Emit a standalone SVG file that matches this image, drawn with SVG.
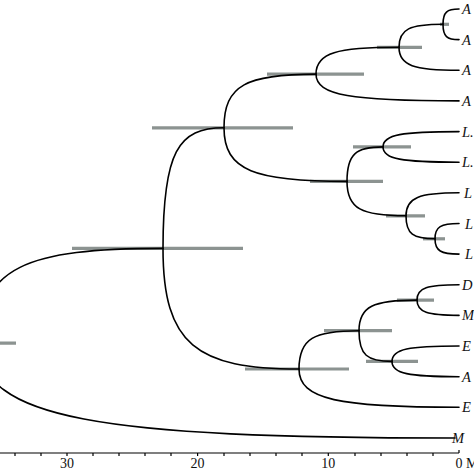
<svg xmlns="http://www.w3.org/2000/svg" width="474" height="474" viewBox="0 0 474 474">
<style>
.br{fill:none;stroke:#000;stroke-width:1.6;stroke-linecap:round}
.bar{stroke:#8c9391;stroke-width:3.2;stroke-linecap:butt}
.lab{font-family:"Liberation Serif","Times New Roman",serif;font-style:italic;font-size:14.5px;fill:#111}
.ax{font-family:"Liberation Serif","Times New Roman",serif;font-size:14px;fill:#111}
.axl{stroke:#000;stroke-width:1.2;fill:none}
</style>
<rect width="474" height="474" fill="#fff"/>
<g id="bars">
<g id="node-root"><line class="bar" x1="-24" y1="343.2" x2="16" y2="343.2"/></g>
<g id="node-n1"><line class="bar" x1="72" y1="248.4" x2="243" y2="248.4"/></g>
<g id="node-n2"><line class="bar" x1="152" y1="127.8" x2="293" y2="127.8"/></g>
<g id="node-n4"><line class="bar" x1="267" y1="74.1" x2="364" y2="74.1"/></g>
<g id="node-n5"><line class="bar" x1="377" y1="47.3" x2="422" y2="47.3"/></g>
<g id="node-n6"><line class="bar" x1="440" y1="24.3" x2="449" y2="24.3"/></g>
<g id="node-n7"><line class="bar" x1="310" y1="181.4" x2="383" y2="181.4"/></g>
<g id="node-n8"><line class="bar" x1="353" y1="146.9" x2="411" y2="146.9"/></g>
<g id="node-n9"><line class="bar" x1="386" y1="215.8" x2="425" y2="215.8"/></g>
<g id="node-n10"><line class="bar" x1="423" y1="238.8" x2="445" y2="238.8"/></g>
<g id="node-n3"><line class="bar" x1="245" y1="369" x2="349" y2="369"/></g>
<g id="node-n11"><line class="bar" x1="324" y1="330.7" x2="392" y2="330.7"/></g>
<g id="node-n12"><line class="bar" x1="397" y1="300.1" x2="434" y2="300.1"/></g>
<g id="node-n13"><line class="bar" x1="366" y1="361.4" x2="418" y2="361.4"/></g>
</g>
<g id="connectors">
<path class="br" d="M-20,343.2 C-20,267.4 25.75,248.4 163,248.4"/>
<path class="br" d="M-20,343.2 C-20,419 98.75,438 455,438"/>
<path class="br" d="M163,248.4 C163,151.9 178.25,127.8 224,127.8"/>
<path class="br" d="M163,248.4 C163,344.9 197,369 299,369"/>
<path class="br" d="M224,127.8 C224,84.8 247,74.1 316,74.1"/>
<path class="br" d="M224,127.8 C224,170.7 254.75,181.4 347,181.4"/>
<path class="br" d="M316,74.1 C316,52.7 336.75,47.3 399,47.3"/>
<path class="br" d="M316,74.1 C316,95.5 351.75,100.9 459,100.9"/>
<path class="br" d="M399,47.3 C399,28.9 410,24.3 443,24.3"/>
<path class="br" d="M399,47.3 C399,65.7 414,70.3 459,70.3"/>
<path class="br" d="M443,24.3 C443,12.06 447,9 459,9"/>
<path class="br" d="M443,24.3 C443,36.54 447,39.6 459,39.6"/>
<path class="br" d="M347,181.4 C347,153.8 356,146.9 383,146.9"/>
<path class="br" d="M347,181.4 C347,208.9 361.75,215.8 406,215.8"/>
<path class="br" d="M383,146.9 C383,134.66 402,131.6 459,131.6"/>
<path class="br" d="M383,146.9 C383,159.14 402,162.2 459,162.2"/>
<path class="br" d="M406,215.8 C406,197.4 419.25,192.8 459,192.8"/>
<path class="br" d="M406,215.8 C406,234.2 413.25,238.8 435,238.8"/>
<path class="br" d="M435,238.8 C435,226.56 441,223.5 459,223.5"/>
<path class="br" d="M435,238.8 C435,251.04 441,254.1 459,254.1"/>
<path class="br" d="M299,369 C299,338.36 314,330.7 359,330.7"/>
<path class="br" d="M299,369 C299,399.64 339,407.3 459,407.3"/>
<path class="br" d="M359,330.7 C359,306.22 373.5,300.1 417,300.1"/>
<path class="br" d="M359,330.7 C359,355.26 367.25,361.4 392,361.4"/>
<path class="br" d="M417,300.1 C417,287.86 427.5,284.8 459,284.8"/>
<path class="br" d="M417,300.1 C417,312.34 427.5,315.4 459,315.4"/>
<path class="br" d="M392,361.4 C392,349.08 408.75,346 459,346"/>
<path class="br" d="M392,361.4 C392,373.64 408.75,376.7 459,376.7"/>
</g>
<g id="tips">
<g id="tip-1"><text class="lab" x="462" y="14">A</text></g>
<g id="tip-2"><text class="lab" x="462" y="44.6">A</text></g>
<g id="tip-3"><text class="lab" x="462" y="75.3">A</text></g>
<g id="tip-4"><text class="lab" x="462" y="105.9">A</text></g>
<g id="tip-5"><text class="lab" x="462" y="136.6">L.</text></g>
<g id="tip-6"><text class="lab" x="462" y="167.2">L.</text></g>
<g id="tip-7"><text class="lab" x="464" y="197.8">L</text></g>
<g id="tip-8"><text class="lab" x="465" y="228.5">L</text></g>
<g id="tip-9"><text class="lab" x="465" y="259.1">L</text></g>
<g id="tip-10"><text class="lab" x="462" y="289.8">D</text></g>
<g id="tip-11"><text class="lab" x="462" y="320.4">M</text></g>
<g id="tip-12"><text class="lab" x="462" y="351">E</text></g>
<g id="tip-13"><text class="lab" x="462" y="381.7">A</text></g>
<g id="tip-14"><text class="lab" x="462" y="412.3">E</text></g>
<g id="tip-15"><text class="lab" x="452" y="443">M</text></g>
</g>
<g id="axis">
<line class="axl" x1="0" y1="453" x2="459" y2="453"/>
<path class="axl" d="M459,453v-3 M433,453v3 M407,453v3 M381,453v3 M355,453v3 M328.3,453v3 M302,453v3 M276,453v3 M250,453v3 M224,453v3 M197.6,453v3 M171,453v3 M145,453v3 M119,453v3 M93,453v3 M67,453v3 M41,453v3 M15,453v3"/>
<text class="ax" x="67" y="468" text-anchor="middle">30</text>
<text class="ax" x="197.6" y="468" text-anchor="middle">20</text>
<text class="ax" x="328.3" y="468" text-anchor="middle">10</text>
<text class="ax" x="455.5" y="468">0 Ma</text>
</g>
</svg>
